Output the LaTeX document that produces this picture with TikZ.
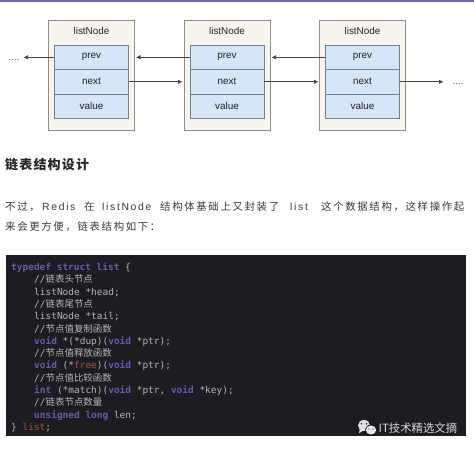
\documentclass[tikz,border=0pt]{standalone}
\usepackage{fontspec}
\usetikzlibrary{arrows.meta}
\setmainfont{Liberation Sans}
\setmonofont{DejaVu Sans Mono}
\newfontfamily\cjk{Noto Sans CJK SC}
\newfontfamily\cjkbody[LetterSpace=16]{Noto Sans CJK SC}
\newfontfamily\latbody[LetterSpace=16]{Liberation Sans}
\newfontfamily\cjkhead[LetterSpace=9]{Noto Sans CJK SC}
\definecolor{barpurple}{HTML}{7B62B2}
\definecolor{outerfill}{HTML}{F8F5EE}
\definecolor{outerline}{HTML}{8F8F8B}
\definecolor{innerfill}{HTML}{D6E5F8}
\definecolor{innerline}{HTML}{6E8296}
\definecolor{codebg}{HTML}{1C1C22}
\definecolor{codetxt}{HTML}{B4B4B8}
\definecolor{codekw}{HTML}{6F58AE}
\definecolor{coderd}{HTML}{A8503C}
\definecolor{bodytxt}{HTML}{3A3A3A}
\definecolor{linktxt}{HTML}{222222}
\newcommand{\kw}[1]{{\color{codekw}\bfseries #1}}
\newcommand{\rd}[1]{{\color{coderd}#1}}
\newcommand{\cm}[1]{{\cjk #1}}
\newcommand{\lat}[1]{{\latbody #1}}
\tikzset{
  outerbox/.style={draw=outerline,fill=outerfill,line width=1pt,minimum width=86pt,minimum height=110pt,inner sep=0pt},
  cell/.style={draw=innerline,fill=innerfill,line width=.8pt,minimum width=74pt,minimum height=24.5pt,inner sep=0pt,font=\fontsize{9.9}{11}\selectfont,text=linktxt},
  title/.style={inner sep=0pt,font=\fontsize{9.9}{11}\selectfont,text=linktxt},
  link/.style={draw=black!75,line width=.7pt,-{Latex[length=4.5pt,width=4.5pt]}},
  dots/.style={inner sep=0pt,font=\fontsize{9.5}{10}\selectfont,text=black!65},
  codeline/.style={anchor=base west,inner sep=0pt,text=codetxt,font=\ttfamily\fontsize{9.47}{11}\selectfont},
  bodyline/.style={anchor=base west,inner sep=0pt,text=bodytxt,font=\cjkbody\fontsize{10.4}{12}\selectfont},
}
\begin{document}
\begin{tikzpicture}[x=1pt,y=-1pt]
\useasboundingbox (0,0) rectangle (474,449);
\fill[white] (0,0) rectangle (474,449);
\fill[barpurple] (0,0) rectangle (474,2);

% list nodes
\foreach \n/\cx in {A/91.5,B/227,C/362.5}{
  \node[outerbox] (outer\n) at (\cx,76) {};
  \node[title] (title\n) at (\cx,30.5) {listNode};
  \node[cell] (prev\n) at (\cx,57.3) {prev};
  \node[cell] (next\n) at (\cx,81.8) {next};
  \node[cell] (value\n) at (\cx,106.3) {value};
}
\node[dots] (dotsL) at (14,59.5) {....};
\node[dots] (dotsR) at (458,84) {....};
\coordinate (endL) at (23.5,57.3);
\coordinate (endAB) at (136,57.3);
\coordinate (endBC) at (271.5,57.3);
\coordinate (nextAB) at (182.5,81.8);
\coordinate (nextBC) at (318.5,81.8);
\coordinate (endR) at (443.5,81.8);
\draw[link] (prevA.west) -- (endL);
\draw[link] (prevB.west) -- (endAB);
\draw[link] (prevC.west) -- (endBC);
\draw[link] (nextA.east) -- (nextAB);
\draw[link] (nextB.east) -- (nextBC);
\draw[link] (nextC.east) -- (endR);

% heading and paragraph
\node[anchor=base west,inner sep=0pt,text=black!85,font=\cjkhead\bfseries\fontsize{13}{15}\selectfont] (heading) at (5,170) {链表结构设计};
\node[bodyline] (p1a) at (5,211) {不过，};
\node[bodyline] (p1b) at (42,211) {\lat{Redis}};
\node[bodyline] (p1c) at (84,211) {在};
\node[bodyline] (p1d) at (102,211) {\lat{listNode}};
\node[bodyline] (p1e) at (160,211) {结构体基础上又封装了};
\node[bodyline] (p1f) at (290,211) {\lat{list}};
\node[bodyline] (p1g) at (321,211) {这个数据结构，这样操作起};
\node[bodyline] (para2) at (5,231) {来会更方便，链表结构如下：};

% code
\fill[codebg] (6,255) rectangle (466,436);
\node[codeline] (c1) at (11,270.5) {\kw{typedef struct list} \{};
\node[codeline] (c2) at (34,282.8) {//\cm{链表头节点}};
\node[codeline] (c3) at (34,295.1) {listNode *head;};
\node[codeline] (c4) at (34,307.4) {//\cm{链表尾节点}};
\node[codeline] (c5) at (34,319.7) {listNode *tail;};
\node[codeline] (c6) at (34,332) {//\cm{节点值复制函数}};
\node[codeline] (c7) at (34,344.3) {\kw{void} *(*dup)(\kw{void} *ptr);};
\node[codeline] (c8) at (34,356.6) {//\cm{节点值释放函数}};
\node[codeline] (c9) at (34,368.9) {\kw{void} (*\rd{free})(\kw{void} *ptr);};
\node[codeline] (c10) at (34,381.2) {//\cm{节点值比较函数}};
\node[codeline] (c11) at (34,393.5) {\kw{int} (*match)(\kw{void} *ptr, \kw{void} *key);};
\node[codeline] (c12) at (34,405.8) {//\cm{链表节点数量}};
\node[codeline] (c13) at (34,418.1) {\kw{unsigned long} len;};
\node[codeline] (c14) at (11,430.4) {\} \rd{list};};

% watermark
\fill[white!88!black] (364,425.5) ellipse (6pt and 5.5pt);
\draw[white!88!black,fill=white!88!black,line width=.1pt] (360,429) -- (359,433) -- (363,430.5) -- cycle;
\fill[codebg] (371,430) ellipse (6pt and 5.3pt);
\fill[white!92!black] (371,430) ellipse (5.2pt and 4.5pt);
\fill[codebg] (361.5,423.8) circle (.8pt) (366.5,423.8) circle (.8pt);
\fill[codebg] (369,429) circle (.7pt) (373,429) circle (.7pt);
\node[anchor=base west,inner sep=0pt,text=white!85!black,font=\cjk\fontsize{11.4}{13}\selectfont] (mark) at (378.5,432.5) {IT技术精选文摘};
\end{tikzpicture}
\end{document}
